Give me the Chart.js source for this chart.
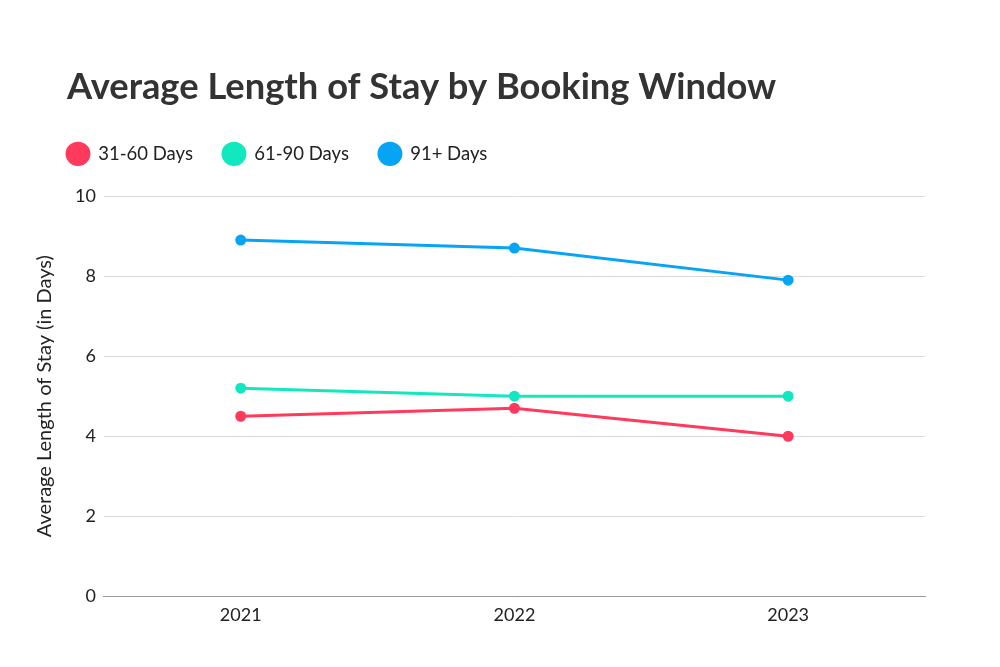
<!DOCTYPE html>
<html>
<head>
<meta charset="utf-8">
<script src="https://cdn.jsdelivr.net/npm/chart.js@4"></script>
<style>
  html, body { margin: 0; padding: 0; background: #fff; }
  #wrap { width: 1000px; height: 667px; }
</style>
</head>
<body>
<div id="wrap"><canvas id="chart"></canvas></div>
<script>
// Chart data
const years = ['2021', '2022', '2023'];
const stay31to60 = [4.5, 4.7, 4.0];
const stay61to90 = [5.2, 5.0, 5.0];
const stay91plus = [8.9, 8.7, 7.9];
const yTicks = [0, 2, 4, 6, 8, 10];

const FONT = "'Lato', 'Open Sans', sans-serif";

function line(label, data, color) {
    return {
        label: label,
        data: data,
        borderColor: color,
        backgroundColor: color,
        borderWidth: 3,
        pointRadius: 4,
        pointHoverRadius: 4,
        tension: 0
    };
}

// nudge the title and legend so they line up like the original
const shiftHeader = {
    id: 'shiftHeader',
    afterLayout(chart) {
        const t = chart.titleBlock;
        t.left += 34; t.right += 34;
        const l = chart.legend;
        l.left += 4; l.right += 4;
        l.top -= 23; l.bottom -= 23;
    }
};

const ctx = document.getElementById('chart').getContext('2d');
new Chart(ctx, {
    type: 'line',
    data: {
        labels: years,
        datasets: [
            line('31-60 Days', stay31to60, '#ff3a5c'),
            line('61-90 Days', stay61to90, '#12e8c0'),
            line('91+ Days', stay91plus, '#06a4f5')
        ]
    },
    plugins: [shiftHeader],
    options: {
        responsive: true,
        maintainAspectRatio: false,
        animation: false,
        layout: { padding: { top: 66, left: 33, right: 75, bottom: 41 } },
        plugins: {
            title: {
                display: true,
                text: 'Average Length of Stay by Booking Window',
                align: 'start',
                color: '#333',
                font: { family: FONT, size: 36.3, weight: 'bold' },
                padding: { top: 0, bottom: 28 }
            },
            legend: {
                align: 'start',
                labels: {
                    usePointStyle: true,
                    pointStyle: 'circle',
                    boxHeight: 15,
                    pointStyleWidth: 22,
                    color: '#222',
                    padding: 30,
                    font: { family: FONT, size: 18.5 }
                }
            },
            tooltip: { enabled: false }
        },
        scales: {
            x: {
                offset: true,
                grid: { display: false },
                border: { display: true, color: '#999', width: 1 },
                ticks: { color: '#222', padding: 0, font: { family: FONT, size: 18 } }
            },
            y: {
                min: 0,
                max: 10,
                afterBuildTicks: axis => { axis.ticks = yTicks.map(v => ({ value: v })); },
                grid: { color: '#dcdcdc', drawTicks: false },
                border: { display: false },
                ticks: { color: '#222', padding: 8, font: { family: FONT, size: 18 } },
                title: {
                    display: true,
                    text: 'Average Length of Stay (in Days)',
                    color: '#222',
                    padding: { top: 0, bottom: 10 },
                    font: { family: FONT, size: 20 }
                }
            }
        }
    }
});
</script>
</body>
</html>
